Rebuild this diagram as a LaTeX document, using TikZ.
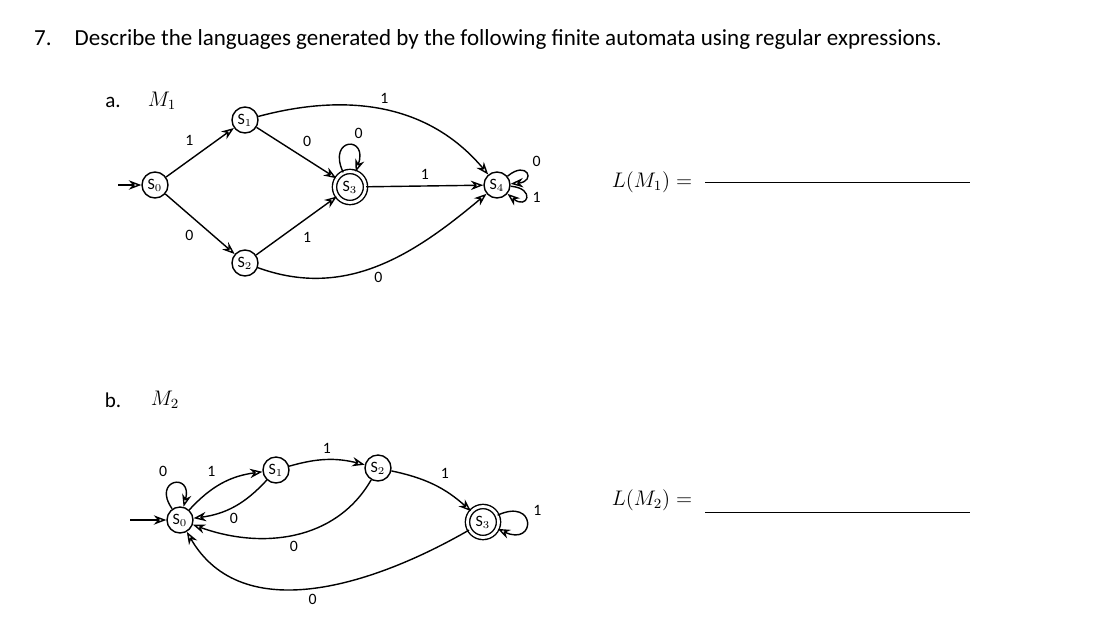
\documentclass[tikz,border=0pt]{standalone}
\usepackage{fontspec}
\setmainfont{Carlito}
\usetikzlibrary{arrows.meta}
\tikzset{
  st/.style={draw,circle,thick,minimum size=0.52cm,inner sep=0pt,font=\small},
  acc/.style={st,double,double distance=1.6pt,minimum size=0.62cm},
  tr/.style={->,thick,>={Stealth[open,length=2.5mm]}},
  lp/.style={tr,looseness=8},
  lb/.style={font=\small}
}
\begin{document}
\begin{tikzpicture}[x=0.02cm,y=-0.02cm]
                \useasboundingbox (0,0) rectangle (1094,626);
                \node[anchor=west,font=\fontsize{13.1}{16}\selectfont] (title) at (28,39) {7.\quad Describe the languages generated by the following finite automata using regular expressions.};
                % M1
                \node[font=\large] (la) at (113,102) {a.};
                \node[font=\large] (ma) at (162,101) {$M_1$};
                \coordinate (ina) at (118,185);
                \node[st] (a0) at (155,185) {S$_0$};
                \node[st] (a1) at (245,120) {S$_1$};
                \node[st] (a2) at (245,263) {S$_2$};
                \node[acc] (a3) at (350,187) {S$_3$};
                \node[st] (a4) at (497,185) {S$_4$};
                \draw[tr] (ina) -- (a0);
                \draw[tr] (a0) -- node[lb,above left] {1} (a1);
                \draw[tr] (a0) -- node[lb,below left] {0} (a2);
                \draw[tr] (a1) -- node[lb,above right] {0} (a3);
                \draw[tr] (a2) -- node[lb,below right] {1} (a3);
                \draw[tr] (a3) -- node[lb,above] {1} (a4);
                \draw[tr] (a1) to[out=15,in=130] node[lb,above,pos=0.5] {1} (a4);
                \draw[tr] (a2) to[out=-20,in=-140] node[lb,below] {0} (a4);
                \draw[lp] (a3) to[out=115,in=70] node[lb,above right] {0} (a3);
                \draw[lp] (a4) to[out=40,in=5] node[lb,above right] {0} (a4);
                \draw[lp] (a4) to[out=-5,in=-40] node[lb,right] {1} (a4);
                \node[font=\large] (La) at (652,182) {$L(M_1) =$};
                \coordinate (Lal) at (705,182);
                \coordinate (Lar) at (970,182);
                \draw (Lal) -- (Lar);
                % M2
                \node[font=\large] (lb2) at (113,400) {b.};
                \node[font=\large] (mb) at (165,400) {$M_2$};
                \coordinate (inb) at (130,520);
                \node[st] (b0) at (180,520) {S$_0$};
                \node[st] (b1) at (276,470) {S$_1$};
                \node[st] (b2) at (378,468) {S$_2$};
                \node[acc] (b3) at (483,522) {S$_3$};
                \draw[tr] (inb) -- (b0);
                \draw[lp] (b0) to[out=125,in=75] node[lb,above left] {0} (b0);
                \draw[tr] (b0) to[bend left=20] node[lb,above left] {1} (b1);
                \draw[tr] (b1) to[bend left=20] node[lb,below] {0} (b0);
                \draw[tr] (b1) to[bend left=15] node[lb,above] {1} (b2);
                \draw[tr] (b2) to[bend left=15] node[lb,above right] {1} (b3);
                \draw[tr] (b2) to[out=-120,in=-20] node[lb,below] {0} (b0);
                \draw[tr] (b3) to[out=-150,in=-60] node[lb,below] {0} (b0);
                \draw[lp] (b3) to[out=25,in=-25] node[lb,above right] {1} (b3);
                \node[font=\large] (Lb) at (652,500) {$L(M_2) =$};
                \coordinate (Lbl) at (705,512);
                \coordinate (Lbr) at (970,512);
                \draw (Lbl) -- (Lbr);
\end{tikzpicture}
\end{document}
